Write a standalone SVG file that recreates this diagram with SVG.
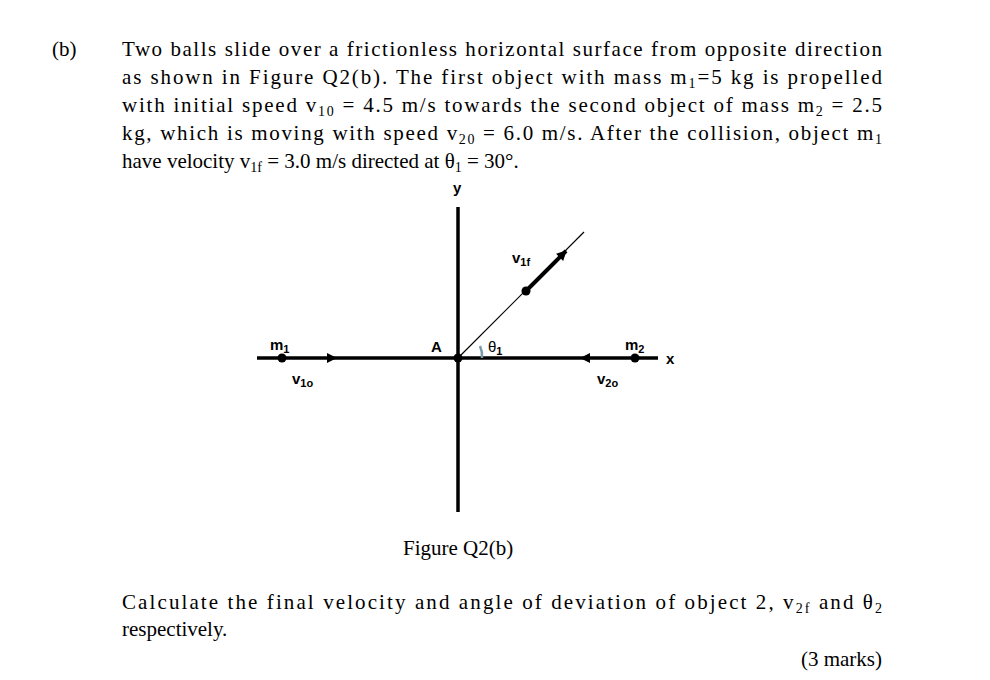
<svg xmlns="http://www.w3.org/2000/svg" width="990" height="680" viewBox="0 0 990 680">
<style>
.t{font-family:"Liberation Serif",serif;font-size:21px;fill:#000}
.s{font-size:14px}
.d{font-family:"Liberation Sans",Arial,sans-serif;font-weight:bold;font-size:15px;fill:#000}
.ds{font-size:11px}
.ax{stroke:#000;stroke-width:3.5}
</style>
<defs>
<marker id="ah" viewBox="0 0 10 10" refX="9" refY="5" markerWidth="5" markerHeight="5" orient="auto" markerUnits="userSpaceOnUse">
<path d="M0,0L10,5L0,10z" fill="#000"/></marker>
<marker id="ah2" viewBox="0 0 10 10" refX="9" refY="5" markerWidth="12" markerHeight="10" orient="auto" markerUnits="userSpaceOnUse">
<path d="M0,0L10,5L0,10z" fill="#000"/></marker>
</defs>
<rect width="990" height="680" fill="#fff"/>
<g id="question">
<text class="t" x="52" y="56">(b)</text>
<text class="t" x="122" y="56" textLength="760" lengthAdjust="spacing">Two balls slide over a frictionless horizontal surface from opposite direction</text>
<text class="t" x="122" y="84" textLength="760" lengthAdjust="spacing">as shown in Figure Q2(b). The first object with mass m<tspan class="s" dy="4">1</tspan><tspan dy="-4">=5 kg is propelled</tspan></text>
<text class="t" x="122" y="112" textLength="760" lengthAdjust="spacing">with initial speed  v<tspan class="s" dy="4">10</tspan><tspan dy="-4"> = 4.5 m/s towards the second object of mass m</tspan><tspan class="s" dy="4">2</tspan><tspan dy="-4"> = 2.5</tspan></text>
<text class="t" x="122" y="140" textLength="760" lengthAdjust="spacing">kg, which is moving with speed v<tspan class="s" dy="4">20</tspan><tspan dy="-4"> = 6.0 m/s. After the collision, object m</tspan><tspan class="s" dy="4">1</tspan></text>
<text class="t" x="122" y="168">have velocity v<tspan class="s" dy="4">1f</tspan><tspan dy="-4"> = 3.0 m/s directed at θ</tspan><tspan class="s" dy="4">1</tspan><tspan dy="-4"> = 30°.</tspan></text>
</g>
<g id="connectors">
<line class="ax" x1="257" y1="358" x2="658" y2="358"/>
<line class="ax" x1="458" y1="207" x2="458" y2="512"/>
<line x1="458" y1="358" x2="584" y2="232" stroke="#000" stroke-width="1.2"/>
<line x1="282" y1="358" x2="336" y2="358" stroke="#000" stroke-width="2" marker-end="url(#ah2)"/>
<line x1="635" y1="358" x2="581" y2="358" stroke="#000" stroke-width="2" marker-end="url(#ah2)"/>
<line x1="526" y1="291" x2="566" y2="251" stroke="#000" stroke-width="4" marker-end="url(#ah2)"/>
<path d="M480,346 A24,24 0 0 1 482,358" fill="none" stroke="#7a9aa8" stroke-width="2.5"/>
</g>
<g id="A"><circle cx="458" cy="358" r="4.5" fill="#000"/><text class="d" x="431" y="352">A</text></g>
<g id="m1"><circle cx="282" cy="358" r="4.5" fill="#000"/><text class="d" x="270" y="350">m<tspan class="ds" dy="3">1</tspan></text><text class="d" x="292" y="384">v<tspan class="ds" dy="3">1o</tspan></text></g>
<g id="m2"><circle cx="635" cy="358" r="4.5" fill="#000"/><text class="d" x="625" y="350">m<tspan class="ds" dy="3">2</tspan></text><text class="d" x="597" y="384">v<tspan class="ds" dy="3">2o</tspan></text></g>
<g id="v1f"><circle cx="526" cy="291" r="4.5" fill="#000"/><text class="d" x="512" y="263">v<tspan class="ds" dy="3">1f</tspan></text></g>
<g id="labels">
<text class="d" x="453" y="193">y</text>
<text class="d" x="666" y="364">x</text>
<text class="d" x="488" y="352" style="font-weight:normal">θ<tspan class="ds" dy="3" style="font-weight:bold">1</tspan></text>
</g>
<g id="caption">
<text class="t" x="403" y="555">Figure Q2(b)</text>
<text class="t" x="122" y="609" textLength="760" lengthAdjust="spacing">Calculate the final velocity and angle of deviation of object 2, v<tspan class="s" dy="4">2f</tspan><tspan dy="-4"> and θ</tspan><tspan class="s" dy="4">2</tspan></text>
<text class="t" x="122" y="636">respectively.</text>
<text class="t" x="882" y="666" text-anchor="end">(3 marks)</text>
</g>
</svg>
